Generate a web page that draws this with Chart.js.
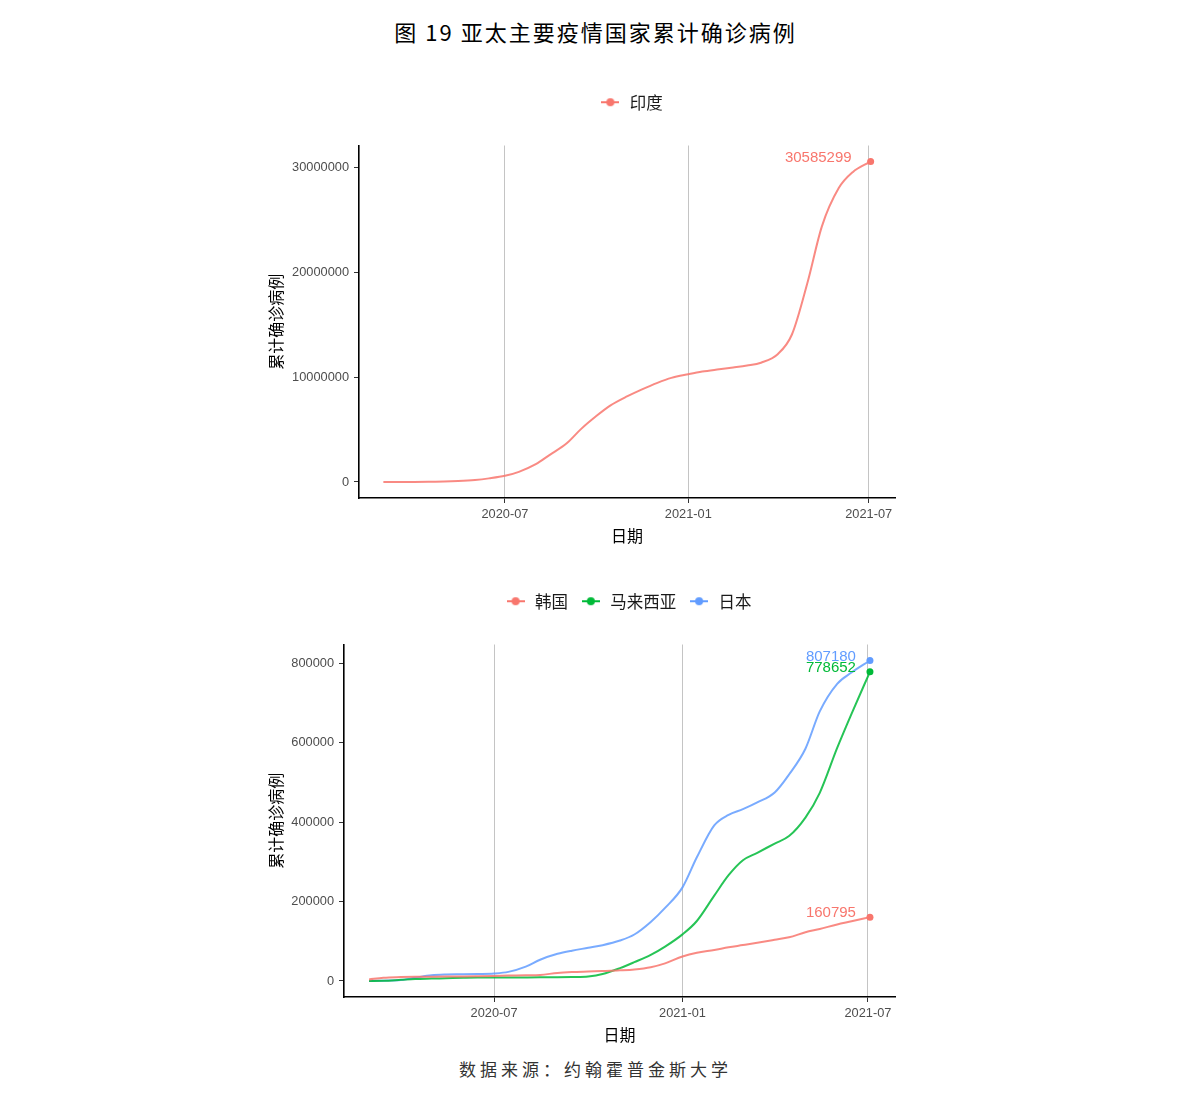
<!DOCTYPE html>
<html>
<head>
<meta charset="utf-8">
<script src="https://cdn.jsdelivr.net/npm/chart.js@4/dist/chart.umd.min.js"></script>
<style>
  body { margin: 0; background: #fff; width: 1191px; height: 1101px; position: relative; overflow: hidden; }
  #title { position: absolute; top: 15px; left: 0; width: 1191px; text-align: center;
           font: 22px "Noto Sans CJK SC"; letter-spacing: 2px; color: #000; }
  #source { position: absolute; top: 1056px; left: 0; width: 1191px; text-align: center;
            font: 17px "Noto Sans CJK SC"; letter-spacing: 4px; color: #333; }
  canvas { position: absolute; }
  #india { left: 250px; top: 80px; }
  #asia { left: 250px; top: 579px; }
</style>
</head>
<body>
<div id="title">图 19 亚太主要疫情国家累计确诊病例</div>
<canvas id="india" width="680" height="475"></canvas>
<canvas id="asia" width="680" height="475"></canvas>
<div id="source">数据来源：约翰霍普金斯大学</div>
<script>
// dates of the readings (semi-monthly, last one is the final day)
const dates = [
  '2020-03-01', '2020-03-15', '2020-04-01', '2020-04-15', '2020-05-01', '2020-05-15',
  '2020-06-01', '2020-06-15', '2020-07-01', '2020-07-15', '2020-08-01', '2020-08-15',
  '2020-09-01', '2020-09-15', '2020-10-01', '2020-10-15', '2020-11-01', '2020-11-15',
  '2020-12-01', '2020-12-15', '2021-01-01', '2021-01-15', '2021-02-01', '2021-02-15',
  '2021-03-01', '2021-03-15', '2021-04-01', '2021-04-15', '2021-05-01', '2021-05-15',
  '2021-06-01', '2021-06-15', '2021-07-03',
];
const indiaCases = [
  3, 107, 1998, 12380, 35043, 85940, 190609, 343091, 585493, 968876, 1695988, 2589682,
  3691166, 5020359, 6312584, 7307097, 8184082, 8814579, 9462809, 9932547, 10286709, 10542841,
  10757610, 10925710, 11112241, 11385339, 12221665, 14074564, 19164969, 24372907, 28047534,
  29570881, 30585299,
];
const koreaCases = [
  3736, 8162, 9887, 10591, 10774, 11018, 11541, 12121, 12850, 13612, 14336, 15318,
  20182, 22391, 23812, 24988, 26732, 28998, 34652, 44364, 61769, 71241, 78205, 84946,
  90372, 96017, 103639, 110146, 122634, 131061, 142342, 150239, 160795,
];
const malaysiaCases = [
  29, 428, 2908, 5072, 6071, 6855, 7857, 8494, 8640, 8737, 8976, 9175,
  9340, 10031, 11484, 17540, 32505, 47417, 65697, 86618, 117373, 151066, 214959, 266445,
  304135, 322744, 346223, 364987, 411594, 474001, 587165, 673026, 778652,
];
const japanCases = [
  239, 839, 2384, 8100, 14281, 16237, 16851, 17588, 18874, 22890, 36094, 53577,
  68392, 76373, 83563, 90140, 101813, 117056, 148694, 184042, 235811, 311508, 391884, 418400,
  432773, 449687, 474773, 520096, 585053, 679044, 748506, 777000, 807180,
];
const tickDates = ['2020-07-01', '2021-01-01', '2021-07-01'];
const tickLabels = ['2020-07', '2021-01', '2021-07'];
const indiaTicks = [0, 10000000, 20000000, 30000000];
const asiaTicks = [0, 200000, 400000, 600000, 800000];

const RED = '#F8766D', GREEN = '#00BA38', BLUE = '#619CFF';

// day numbers counted from the first reading
const start = Date.UTC(2020, 2, 1);
function dayOf(s) {
  const p = s.split('-');
  return (Date.UTC(+p[0], +p[1] - 1, +p[2]) - start) / 86400000;
}
const days = dates.map(dayOf);
const tickDays = tickDates.map(dayOf);
const span = days[days.length - 1] - days[0];

// little line+dot swatch for the legend
function marker(color) {
  const c = document.createElement('canvas');
  c.width = 18; c.height = 12;
  const g = c.getContext('2d');
  g.strokeStyle = color; g.lineWidth = 2;
  g.beginPath(); g.moveTo(0, 6); g.lineTo(18, 6); g.stroke();
  g.fillStyle = color;
  g.beginPath(); g.arc(9, 6, 4, 0, Math.PI * 2); g.fill();
  return c;
}

// value label next to the last point of each line
const endLabels = {
  id: 'endLabels',
  afterDatasetsDraw(chart) {
    const ctx = chart.ctx;
    const shift = chart.options.endShift;
    chart.data.datasets.forEach((ds, i) => {
      const pts = chart.getDatasetMeta(i).data;
      const pt = pts[pts.length - 1];
      ctx.save();
      ctx.font = '15px "Liberation Sans"';
      ctx.fillStyle = ds.labelColor;
      ctx.textAlign = 'right';
      ctx.textBaseline = 'middle';
      ctx.fillText(String(ds.data[ds.data.length - 1].y), pt.x - shift, pt.y - 4);
      ctx.restore();
    });
  },
};

// extra room under the legend, and legend centred on a given x
function legendPlace(extra, centerX) {
  return {
    id: 'legendPlace',
    beforeInit(chart) {
      const fit = chart.legend.fit;
      chart.legend.fit = function () {
        fit.call(this);
        this.height += extra;
      };
    },
    afterLayout(chart) {
      const lg = chart.legend;
      const w = lg.right - lg.left;
      lg.left = centerX - w / 2;
      lg.right = centerX + w / 2;
    },
  };
}

function makeChart(id, names, values, colors, yTicks, leftWidth, legendX, shift) {
  const maxVal = Math.max(...values.map((v) => Math.max(...v)));
  const n = days.length;
  return new Chart(document.getElementById(id), {
    type: 'line',
    plugins: [endLabels, legendPlace(25, legendX)],
    data: {
      datasets: names.map((name, i) => ({
        label: name,
        data: values[i].map((v, j) => ({ x: days[j], y: v })),
        borderColor: colors[i] + 'd9',
        backgroundColor: colors[i],
        labelColor: colors[i],
        borderWidth: 2,
        cubicInterpolationMode: 'monotone',
        pointRadius: (c) => (c.dataIndex === n - 1 ? 3.5 : 0),
        pointBorderWidth: 0,
        pointBackgroundColor: colors[i],
      })),
    },
    options: {
      responsive: false,
      animation: false,
      endShift: shift,
      layout: { padding: { top: 2, right: 35, bottom: 0, left: 0 } },
      plugins: {
        tooltip: { enabled: false },
        legend: {
          position: 'top',
          labels: {
            usePointStyle: true,
            pointStyleWidth: 22,
            padding: 12,
            color: '#1a1a1a',
            font: { family: 'Noto Sans CJK SC', size: 16.5 },
            generateLabels: (chart) =>
              Chart.defaults.plugins.legend.labels.generateLabels(chart).map((l, i) => ({
                ...l,
                pointStyle: marker(colors[i]),
                fontColor: '#1a1a1a',
              })),
          },
        },
      },
      scales: {
        x: {
          type: 'linear',
          min: days[0] - span * 0.05,
          max: days[n - 1] + span * 0.05,
          afterBuildTicks: (s) => { s.ticks = tickDays.map((v) => ({ value: v })); },
          afterFit: (s) => { s.height = 57; },
          ticks: {
            autoSkip: false,
            maxRotation: 0,
            padding: 4,
            color: '#4d4d4d',
            font: { family: 'Liberation Sans', size: 12.8 },
            callback: (v) => tickLabels[tickDays.indexOf(v)],
          },
          grid: { color: '#c4c4c4', lineWidth: 1, tickLength: 5, tickColor: '#333' },
          border: { display: true, color: '#000', width: 1.6 },
          title: {
            display: true, text: '日期', color: '#000',
            font: { family: 'Noto Sans CJK SC', size: 16 }, padding: { top: 0, bottom: 9 },
          },
        },
        y: {
          min: -maxVal * 0.05,
          max: maxVal * 1.05,
          afterBuildTicks: (s) => { s.ticks = yTicks.map((v) => ({ value: v })); },
          afterFit: (s) => { s.width = leftWidth; },
          ticks: {
            padding: 5,
            color: '#4d4d4d',
            font: { family: 'Liberation Sans', size: 12.8 },
            callback: (v) => String(v),
          },
          grid: { drawOnChartArea: false, tickLength: 5, tickColor: '#333' },
          border: { display: true, color: '#000', width: 1.6 },
          title: {
            display: true, text: '累计确诊病例', color: '#000',
            font: { family: 'Noto Sans CJK SC', size: 16 }, padding: { top: 16, bottom: 0 },
          },
        },
      },
    },
  });
}

makeChart('india', ['印度'], [indiaCases], [RED], indiaTicks, 109, 381, 19);
makeChart('asia', ['韩国', '马来西亚', '日本'], [koreaCases, malaysiaCases, japanCases],
  [RED, GREEN, BLUE], asiaTicks, 94, 378, 14);
</script>
</body>
</html>
